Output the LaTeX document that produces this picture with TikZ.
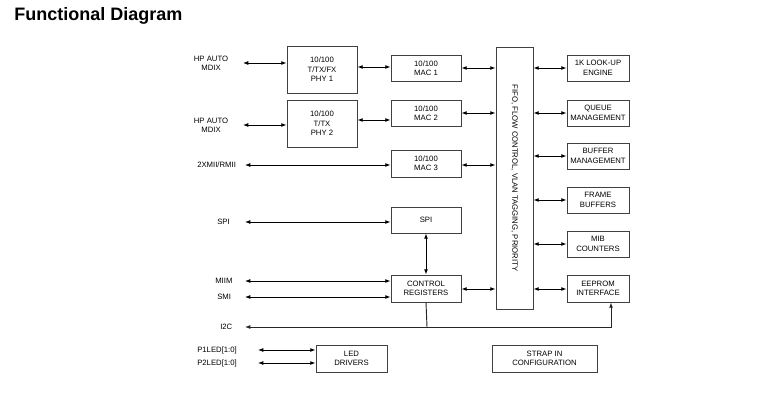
\documentclass[tikz,border=0pt]{standalone}
\usepackage{fontspec}
\setmainfont{Liberation Sans}
\usetikzlibrary{arrows.meta}
\begin{document}
\begin{tikzpicture}[x=0.75pt,y=-0.75pt,
  box/.style={draw=black!75,line width=0.6pt,inner sep=0pt,align=center,font=\fontsize{5.8}{7}\selectfont},
  lbl/.style={font=\fontsize{5.8}{7}\selectfont,align=center,inner sep=0pt},
  bi/.style={{Latex[length=4pt,width=3pt]}-{Latex[length=4pt,width=3pt]},line width=0.7pt},
  ln/.style={line width=0.7pt,draw=black!85}]
\useasboundingbox (0,0) rectangle (784,416);
\node[anchor=west,font=\bfseries\fontsize{13.5}{15}\selectfont,inner sep=0pt] (title) at (14,16) {Functional Diagram};
\newcommand{\bx}[6]{\node[box,minimum width={(#4-#2)*0.75pt},minimum height={(#5-#3)*0.75pt}] (#1) at ({(#2+#4)/2},{(#3+#5)/2}) {#6};}
\bx{phy1}{287}{46}{357}{93}{10/100\\T/TX/FX\\PHY 1}
\bx{phy2}{287}{100}{357}{147}{10/100\\T/TX\\PHY 2}
\bx{mac1}{391}{55}{461}{81}{10/100\\MAC 1}
\bx{mac2}{391}{100}{461}{126}{10/100\\MAC 2}
\bx{mac3}{391}{150}{461}{177}{10/100\\MAC 3}
\bx{spi}{391}{207}{461}{233}{SPI}
\bx{ctrl}{391}{275}{461}{302}{CONTROL\\REGISTERS}
\bx{fifo}{496}{47}{533}{309}{}
\node[lbl,rotate=-90] (fifot) at (514.5,178) {FIFO, FLOW CONTROL, VLAN TAGGING, PRIORITY};
\bx{lut}{567}{55}{629}{81}{1K LOOK-UP\\ENGINE}
\bx{queue}{567}{100}{629}{126}{QUEUE\\MANAGEMENT}
\bx{buf}{567}{143}{629}{169}{BUFFER\\MANAGEMENT}
\bx{frame}{567}{187}{629}{213}{FRAME\\BUFFERS}
\bx{mib}{567}{231}{629}{257}{MIB\\COUNTERS}
\bx{eep}{567}{275}{629}{302}{EEPROM\\INTERFACE}
\bx{led}{316}{345}{387}{372}{LED\\DRIVERS}
\bx{strap}{492}{345}{597}{372}{STRAP IN\\CONFIGURATION}
\node[lbl] (l1) at (211,63) {HP AUTO\\MDIX};
\node[lbl] (l2) at (211,125) {HP AUTO\\MDIX};
\node[lbl,anchor=west] (l3) at (197,165) {2XMII/RMII};
\node[lbl,anchor=west] (l4) at (217,222) {SPI};
\node[lbl,anchor=west] (l5) at (215,281) {MIIM};
\node[lbl,anchor=west] (l6) at (217,297) {SMI};
\node[lbl,anchor=west] (l7) at (220,327) {I2C};
\node[lbl,anchor=west] (l8) at (197,350) {P1LED[1:0]};
\node[lbl,anchor=west] (l9) at (197,363) {P2LED[1:0]};
\coordinate (a1) at (243,63); \coordinate (a2) at (243,125);
\coordinate (a3) at (245,165); \coordinate (a4) at (245,222);
\coordinate (a5) at (245,281); \coordinate (a6) at (245,297);
\coordinate (a7) at (245,327); \coordinate (a8) at (258,350); \coordinate (a9) at (258,363);
\coordinate (j1) at (427,327); \coordinate (j2) at (611,327);
\draw[bi] (a1) -- (a1 -| phy1.west);
\draw[bi] (a2) -- (a2 -| phy2.west);
\draw[bi] (a3) -- (a3 -| mac3.west);
\draw[bi] (a4) -- (a4 -| spi.west);
\draw[bi] (a5) -- (a5 -| ctrl.west);
\draw[bi] (a6) -- (a6 -| ctrl.west);
\draw[bi] (a8) -- (a8 -| led.west);
\draw[bi] (a9) -- (a9 -| led.west);
\draw[bi] (phy1.east |- 0,67) -- (mac1.west |- 0,67);
\draw[bi] (phy2.east |- 0,120) -- (mac2.west |- 0,120);
\foreach \n/\y in {mac1/68,mac2/113,mac3/165,ctrl/289}
  \draw[bi] (\n.east |- 0,\y) -- (fifo.west |- 0,\y);
\foreach \n/\y in {lut/68,queue/113,buf/156,frame/200,mib/244,eep/289}
  \draw[bi] (fifo.east |- 0,\y) -- (\n.west |- 0,\y);
\draw[bi] (spi.south) -- (ctrl.north);
\draw[ln] (ctrl.south) -- (j1);
\draw[ln,-{Latex[length=4pt,width=3pt]}] (j1) -- (a7);
\draw[ln,-{Latex[length=4pt,width=3pt]}] (j1) -- (j2) -- (eep.south -| j2);
\end{tikzpicture}
\end{document}
